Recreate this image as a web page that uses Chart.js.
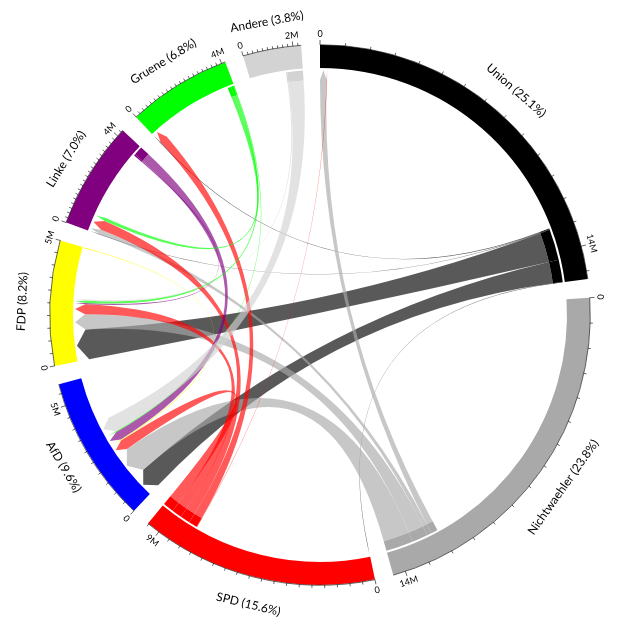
<!DOCTYPE html>
<html>
<head>
<meta charset="utf-8">
<script src="https://cdn.jsdelivr.net/npm/chart.js@4.4.1/dist/chart.umd.min.js"></script>
<style>
    html, body { margin: 0; padding: 0; background: #fff; }
</style>
</head>
<body>
<canvas id="chord_canva" width="640" height="630"></canvas>
<script>
// Sektoren (Stimmen 2017 in Mio.)
const parteien = ['Union', 'Nichtwaehler', 'SPD', 'AfD', 'FDP', 'Linke', 'Gruene', 'Andere'];
const prozente = ['25.1%', '23.8%', '15.6%', '9.6%', '8.2%', '7.0%', '6.8%', '3.8%'];
const stimmen = [15.32, 14.5, 9.54, 5.88, 5.0, 4.3, 4.16, 2.33];
const farben = ['#000000', '#A9A9A9', '#FF0000', '#0000FF', '#FFFF00', '#800080', '#00FF00', '#D3D3D3'];

// Achse: Abstand der Striche und beschrifteter Strich (Mio.)
const tickSchritt = [1, 1, 0.5, 0.5, 0.5, 0.2, 0.2, 0.2];
const tickLabelBei = [14, 14, 9, 5, 5, 4, 4, 2];

// Waehlerwanderung (Mio.)
const flussVon = ['Union', 'Union', 'Union', 'Union', 'Union',
    'Nichtwaehler', 'Nichtwaehler', 'Nichtwaehler', 'Nichtwaehler',
    'SPD', 'SPD', 'SPD', 'SPD', 'SPD',
    'FDP', 'Linke', 'Linke', 'Gruene', 'Gruene', 'Gruene', 'Andere', 'Andere'];
const flussNach = ['SPD', 'AfD', 'FDP', 'Linke', 'Gruene',
    'Union', 'AfD', 'FDP', 'Linke',
    'Union', 'AfD', 'FDP', 'Linke', 'Gruene',
    'AfD', 'AfD', 'FDP', 'AfD', 'FDP', 'Linke', 'AfD', 'FDP'];
const flussWert = [0.02, 0.98, 1.36, 0.03, 0.03,
    0.3, 1.2, 0.7, 0.2,
    0.02, 0.47, 0.45, 0.43, 0.38,
    0.04, 0.4, 0.06, 0.04, 0.11, 0.15, 0.69, 0.05];

const lueckeGrad = 4.0;
const summe = stimmen.reduce((a, b) => a + b, 0);
const luecke = summe * lueckeGrad / (360 - parteien.length * lueckeGrad);

const werte = [];
const hintergrund = [];
stimmen.forEach(function (s, i) {
    werte.push(s, luecke);
    hintergrund.push(farben[i], 'rgba(0,0,0,0)');
});

function mitAlpha(hex, a) {
    const r = parseInt(hex.slice(1, 3), 16);
    const g = parseInt(hex.slice(3, 5), 16);
    const b = parseInt(hex.slice(5, 7), 16);
    return `rgba(${r}, ${g}, ${b}, ${a})`;
}

function drehung(a) {
    // a: Canvas-Winkel -> Textdrehung, unten gespiegelt
    let t = a + Math.PI / 2;
    t = ((t % (2 * Math.PI)) + 2 * Math.PI) % (2 * Math.PI);
    if (t > Math.PI / 2 && t < 3 * Math.PI / 2) t -= Math.PI;
    return t;
}

const chordPlugin = {
    id: 'chordPlugin',
    afterDatasetsDraw(chart) {
        const ctx = chart.ctx;
        const meta = chart.getDatasetMeta(0);
        const boegen = parteien.map((p, i) => meta.data[2 * i]);
        const cx = boegen[0].x;
        const cy = boegen[0].y;
        const rAussen = boegen[0].outerRadius;
        const rInnen = boegen[0].innerRadius;
        const rBalken = rInnen - 2;
        const rLink = rInnen - 12;
        const n = parteien.length;

        function winkel(i, v) {
            const b = boegen[i];
            return b.startAngle + v / stimmen[i] * (b.endAngle - b.startAngle);
        }
        function punkt(r, a) {
            return [cx + r * Math.cos(a), cy + r * Math.sin(a)];
        }

        // Positionen der Links berechnen
        const links = flussWert.map(function (w, k) {
            return { von: parteien.indexOf(flussVon[k]), nach: parteien.indexOf(flussNach[k]), wert: w };
        });
        // eingehend: am Sektoranfang, nach Reihenfolge der Quelle
        parteien.forEach(function (p, t) {
            let pos = 0;
            links.filter(l => l.nach === t).sort((a, b) => a.von - b.von).forEach(function (l) {
                l.t0 = winkel(t, pos);
                pos += l.wert;
                l.t1 = winkel(t, pos);
            });
        });
        // ausgehend: am Sektorende, entferntestes Ziel zuerst
        parteien.forEach(function (p, s) {
            const raus = links.filter(l => l.von === s);
            let pos = stimmen[s] - raus.reduce((a, l) => a + l.wert, 0);
            raus.sort((a, b) => ((b.nach - s + n) % n) - ((a.nach - s + n) % n)).forEach(function (l) {
                l.s0 = winkel(s, pos);
                pos += l.wert;
                l.s1 = winkel(s, pos);
            });
        });

        links.sort((a, b) => a.von - b.von || a.nach - b.nach);

        ctx.save();
        links.forEach(function (l) {
            // Balken an der Quelle
            ctx.beginPath();
            ctx.arc(cx, cy, rBalken, l.s0, l.s1);
            ctx.arc(cx, cy, rLink, l.s1, l.s0, true);
            ctx.closePath();
            ctx.fillStyle = farben[l.von];
            ctx.fill();

            // Band mit Pfeil am Ziel
            const pt0 = punkt(rLink, l.t0);
            const pt1 = punkt(rLink, l.t1);
            const spitze = punkt(rBalken, (l.t0 + l.t1) / 2);
            const ps0 = punkt(rLink, l.s0);
            ctx.beginPath();
            ctx.arc(cx, cy, rLink, l.s0, l.s1);
            ctx.quadraticCurveTo(cx, cy, pt0[0], pt0[1]);
            ctx.lineTo(spitze[0], spitze[1]);
            ctx.lineTo(pt1[0], pt1[1]);
            ctx.quadraticCurveTo(cx, cy, ps0[0], ps0[1]);
            ctx.closePath();
            ctx.fillStyle = mitAlpha(farben[l.von], 0.65);
            ctx.fill();
        });

        // Achsen, Striche und Beschriftung
        ctx.strokeStyle = '#000';
        ctx.fillStyle = '#000';
        ctx.lineWidth = 0.6;
        parteien.forEach(function (p, i) {
            const b = boegen[i];
            ctx.beginPath();
            ctx.arc(cx, cy, rAussen + 0.3, b.startAngle, b.endAngle);
            ctx.stroke();

            const anzahl = Math.floor(stimmen[i] / tickSchritt[i] + 1e-6);
            for (let k = 0; k <= anzahl; k++) {
                const v = k * tickSchritt[i];
                const gross = k === 0 || Math.abs(v - tickLabelBei[i]) < 1e-6;
                const a = winkel(i, v);
                const p1 = punkt(rAussen, a);
                const p2 = punkt(rAussen + (gross ? 5 : 3), a);
                ctx.beginPath();
                ctx.moveTo(p1[0], p1[1]);
                ctx.lineTo(p2[0], p2[1]);
                ctx.stroke();
            }

            ctx.font = '9px Lato';
            ctx.textAlign = 'center';
            ctx.textBaseline = 'middle';
            [[0, '0'], [tickLabelBei[i], tickLabelBei[i] + 'M']].forEach(function (lab) {
                const a = winkel(i, lab[0]);
                const pt = punkt(rAussen + 11, a);
                ctx.save();
                ctx.translate(pt[0], pt[1]);
                ctx.rotate(drehung(a));
                ctx.fillText(lab[1], 0, 0);
                ctx.restore();
            });

            const mitte = (b.startAngle + b.endAngle) / 2;
            const pm = punkt(rAussen + 28, mitte);
            ctx.save();
            ctx.translate(pm[0], pm[1]);
            ctx.rotate(drehung(mitte));
            ctx.font = '12px Lato';
            ctx.fillText(`${p} (${prozente[i]})`, 0, 0);
            ctx.restore();
        });
        ctx.restore();
    }
};

const chord = document.getElementById('chord_canva');

new Chart(chord, {
    type: 'doughnut',
    data: {
        labels: parteien.flatMap(p => [p, '']),
        datasets: [{
            data: werte,
            backgroundColor: hintergrund,
            borderWidth: 0
        }]
    },
    options: {
        responsive: false,
        animation: false,
        events: [],
        cutout: 247,
        layout: { padding: 45 },
        plugins: {
            legend: { display: false },
            tooltip: { enabled: false }
        }
    },
    plugins: [chordPlugin]
});
</script>
</body>
</html>
